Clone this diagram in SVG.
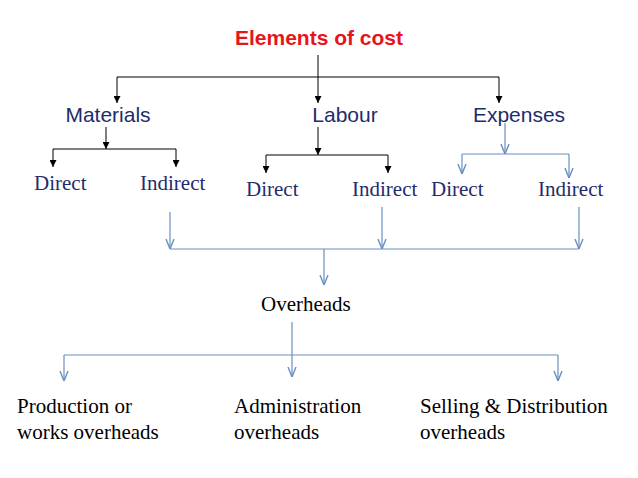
<svg xmlns="http://www.w3.org/2000/svg" width="638" height="478" viewBox="0 0 638 478">
<style>
.s{font-family:"Liberation Sans",Arial,sans-serif;font-size:21px;fill:#1F2D6B}
.r{font-family:"Liberation Serif","Times New Roman",serif;font-size:21px;fill:#1F2D6B}
.b{font-family:"Liberation Serif","Times New Roman",serif;font-size:21px;fill:#000}
.k{stroke:#000;stroke-width:1;fill:none}
.u{stroke:#6A8FBF;stroke-width:1.2;fill:none}
</style>
<defs>
<marker id="a" viewBox="0 0 8 8" markerWidth="7" markerHeight="7" refX="8" refY="4" orient="auto" markerUnits="userSpaceOnUse"><path d="M0,0 L8,4 L0,8 z" fill="#000"/></marker>
<marker id="o" viewBox="0 0 10 10" markerWidth="10" markerHeight="10" refX="10" refY="5" orient="auto" markerUnits="userSpaceOnUse"><path d="M0,1 L10,5 L0,9" fill="none" stroke="#6A8FBF" stroke-width="1.4"/></marker>
</defs>
<g id="connectors">
<path class="k" d="M318,55 V77 M117,77 H499"/>
<path class="k" d="M117,77 V103" marker-end="url(#a)"/>
<path class="k" d="M318,77 V103" marker-end="url(#a)"/>
<path class="k" d="M499,77 V103" marker-end="url(#a)"/>
<path class="k" d="M106,127 V149" marker-end="url(#a)"/>
<path class="k" d="M53,149 H176"/>
<path class="k" d="M53,149 V167" marker-end="url(#a)"/>
<path class="k" d="M176,149 V167" marker-end="url(#a)"/>
<path class="k" d="M318,127 V155" marker-end="url(#a)"/>
<path class="k" d="M266,155 H388"/>
<path class="k" d="M266,155 V173" marker-end="url(#a)"/>
<path class="k" d="M388,155 V173" marker-end="url(#a)"/>
<path class="u" d="M505,123 V154" marker-end="url(#o)"/>
<path class="u" d="M462,154 H569"/>
<path class="u" d="M462,154 V174" marker-end="url(#o)"/>
<path class="u" d="M569,154 V178" marker-end="url(#o)"/>
<path class="u" d="M170,212 V249" marker-end="url(#o)"/>
<path class="u" d="M382,207 V249" marker-end="url(#o)"/>
<path class="u" d="M579,207 V249" marker-end="url(#o)"/>
<path class="u" d="M170,249 H579"/>
<path class="u" d="M324,249 V285" marker-end="url(#o)"/>
<path class="u" d="M292,322 V377" marker-end="url(#o)"/>
<path class="u" d="M64,355 H558"/>
<path class="u" d="M64,355 V381" marker-end="url(#o)"/>
<path class="u" d="M558,355 V381" marker-end="url(#o)"/>
</g>
<g id="title"><text x="319" y="45" text-anchor="middle" style="font-family:'Liberation Sans',Arial,sans-serif;font-size:21px;font-weight:bold;fill:#E8141B">Elements of cost</text></g>
<g id="materials"><text class="s" x="108" y="122" text-anchor="middle">Materials</text></g>
<g id="labour"><text class="s" x="345" y="122" text-anchor="middle">Labour</text></g>
<g id="expenses"><text class="s" x="519" y="122" text-anchor="middle">Expenses</text></g>
<g id="m-direct"><text class="r" x="34" y="190">Direct</text></g>
<g id="m-indirect"><text class="r" x="140" y="190">Indirect</text></g>
<g id="l-direct"><text class="r" x="246" y="196">Direct</text></g>
<g id="l-indirect"><text class="r" x="352" y="196">Indirect</text></g>
<g id="e-direct"><text class="r" x="431" y="196">Direct</text></g>
<g id="e-indirect"><text class="r" x="538" y="196">Indirect</text></g>
<g id="overheads"><text class="b" x="261" y="311">Overheads</text></g>
<g id="production"><text class="b" x="17" y="413">Production or</text><text class="b" x="17" y="439">works overheads</text></g>
<g id="administration"><text class="b" x="234" y="413">Administration</text><text class="b" x="234" y="439">overheads</text></g>
<g id="selling"><text class="b" x="420" y="413">Selling &amp; Distribution</text><text class="b" x="420" y="439">overheads</text></g>
</svg>
